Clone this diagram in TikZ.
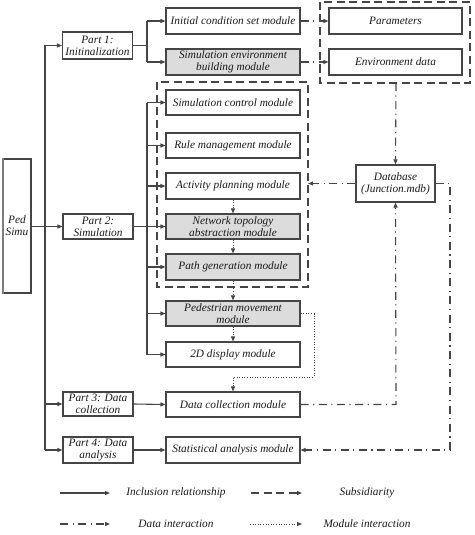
\documentclass[tikz,border=0pt]{standalone}
\usepackage{fontspec}
\setmainfont{Liberation Serif}
\usetikzlibrary{arrows.meta,calc}
\definecolor{lc}{HTML}{454545}
\definecolor{gf}{HTML}{DCDCDC}
\begin{document}
\begin{tikzpicture}[x=1pt,y=-1pt,
  box/.style={draw=lc,line width=1.1pt,inner sep=1pt,align=center,font=\fontsize{11.3}{12}\selectfont\itshape,minimum height=25pt,text=black!90},
  mod/.style={box,minimum width=134pt},
  grey/.style={fill=gf},
  part/.style={box,minimum width=70pt},
  tip/.style={-{Triangle[length=5pt,width=4pt]}},
  inc/.style={draw=lc,line width=1.1pt},
  sub/.style={draw=lc,line width=1.2pt,dash pattern=on 8pt off 4.5pt},
  dat/.style={draw=lc,line width=1.1pt,dash pattern=on 8pt off 4.5pt on 1.2pt off 4.5pt},
  mdl/.style={draw=lc,line width=0.9pt,dash pattern=on 1pt off 1.6pt},
  lgt/.style={font=\fontsize{11.3}{12}\selectfont\itshape,text=black!90}
]
\useasboundingbox (0,0) rectangle (474,535);
% dashed groups
\draw[sub] (157,82) rectangle (308,287);
\draw[sub] (320,2) rectangle (470,83);
\coordinate (g2b) at (396,83);
\coordinate (g1r) at (308,183.5);
% main nodes
\node[box,minimum width=28pt,minimum height=134pt] (ped) at (17,226) {Ped\\Simu};
\draw[lc!70,line width=2.2pt] ($(ped.south west)+(0.6,0)$) -- ($(ped.north west)+(0.6,0)$);
\node[part,minimum height=27pt] (p1) at (97.5,45.5) {Part 1:\\Initinalization};
\node[part] (p2) at (98,226.5) {Part 2:\\Simulation};
\node[part,minimum height=24pt] (p3) at (98,404) {Part 3: Data\\collection};
\node[part,minimum height=26pt] (p4) at (98,450) {Part 4: Data\\analysis};
\node[mod,minimum height=26pt] (m1) at (233,21) {Initial condition set module};
\node[mod,grey,minimum height=26pt] (m2) at (233,62) {Simulation environment\\building module};
\node[mod] (m3) at (233,102.5) {Simulation control module};
\node[mod] (m4) at (233,145.5) {Rule management module};
\node[mod,minimum height=26pt] (m5) at (233,186) {Activity planning module};
\node[mod,grey] (m6) at (233,226.5) {Network topology\\abstraction module};
\node[mod,grey,minimum height=26pt] (m7) at (233,267) {Path generation module};
\node[mod,grey] (m8) at (233,313.5) {Pedestrian movement\\module};
\node[mod] (m9) at (233,354.5) {2D display module};
\node[mod] (m10) at (233,404.5) {Data collection module};
\node[mod,minimum height=26pt] (m11) at (233,450) {Statistical analysis module};
\node[box,minimum width=133pt,minimum height=26pt] (par) at (395.5,21) {Parameters};
\node[box,minimum width=133pt,minimum height=26pt] (env) at (395.5,62) {Environment data};
\node[box,minimum width=79pt,minimum height=37pt] (db) at (395.5,183.5) {Database\\(Junction.mdb)};
% inclusion
\coordinate (tr) at (45,0);
\coordinate (bx) at (147,0);
\draw[inc] (tr |- p1.west) -- (tr |- p4.west);
\draw[inc,tip] (ped.east |- p2.west) -- (p2.west);
\foreach \n in {p1,p3,p4} \draw[inc,tip] (tr |- \n.west) -- (\n.west);
\draw[inc] (p1.east) -- (bx |- p1.east);
\draw[inc] (bx |- m1.west) -- (bx |- m2.west);
\foreach \n in {m1,m2} \draw[inc,tip] (bx |- \n.west) -- (\n.west);
\draw[inc] (p2.east) -- (bx |- p2.east);
\draw[inc] (bx |- m3.west) -- (bx |- m9.west);
\foreach \n in {m3,m4,m5,m6,m7,m8,m9} \draw[inc,tip] (bx |- \n.west) -- (\n.west);
\draw[inc,tip] (p3.east) -- (m10.west);
\draw[inc,tip] (p4.east) -- (m11.west);
% module interaction
\draw[mdl,tip] (m5.south) -- (m6.north);
\draw[mdl,tip] (m6.south) -- (m7.north);
\draw[mdl,tip] (m7.south) -- (m8.north);
\draw[mdl,tip] (m8.south) -- (m9.north);
\coordinate (d1) at (314,313.5);
\coordinate (d2) at (314,377);
\draw[mdl,tip] (m8.east) -- (d1) -- (d2) -- (m10.north |- d2) -- (m10.north);
% data interaction
\draw[dat,tip] (m1.east) -- (par.west);
\draw[dat,tip] (m2.east) -- (env.west);
\draw[dat,tip] (g2b) -- (db.north);
\draw[dat,tip] (db.west) -- (g1r);
\coordinate (c1) at (396,404.5);
\draw[dat,tip] (m10.east) -- (c1) -- (db.south);
\coordinate (e1) at (450,183.5);
\coordinate (e2) at (450,450);
\draw[dat,tip] (db.east) -- (e1) -- (e2) -- (m11.east);
% legend
\coordinate (la1) at (60,493); \coordinate (lb1) at (110,493);
\coordinate (la2) at (251,493); \coordinate (lb2) at (302,493);
\coordinate (la3) at (60,524); \coordinate (lb3) at (110,524);
\coordinate (la4) at (250,524); \coordinate (lb4) at (302,524);
\draw[inc,tip] (la1) -- (lb1);
\draw[sub,tip] (la2) -- (lb2);
\draw[dat,tip] (la3) -- (lb3);
\draw[mdl,tip] (la4) -- (lb4);
\node[lgt] (t1) at (176,493) {Inclusion relationship};
\node[lgt] (t2) at (367,493) {Subsidiarity};
\node[lgt] (t3) at (176,524) {Data interaction};
\node[lgt] (t4) at (367,524) {Module interaction};
\end{tikzpicture}
\end{document}
